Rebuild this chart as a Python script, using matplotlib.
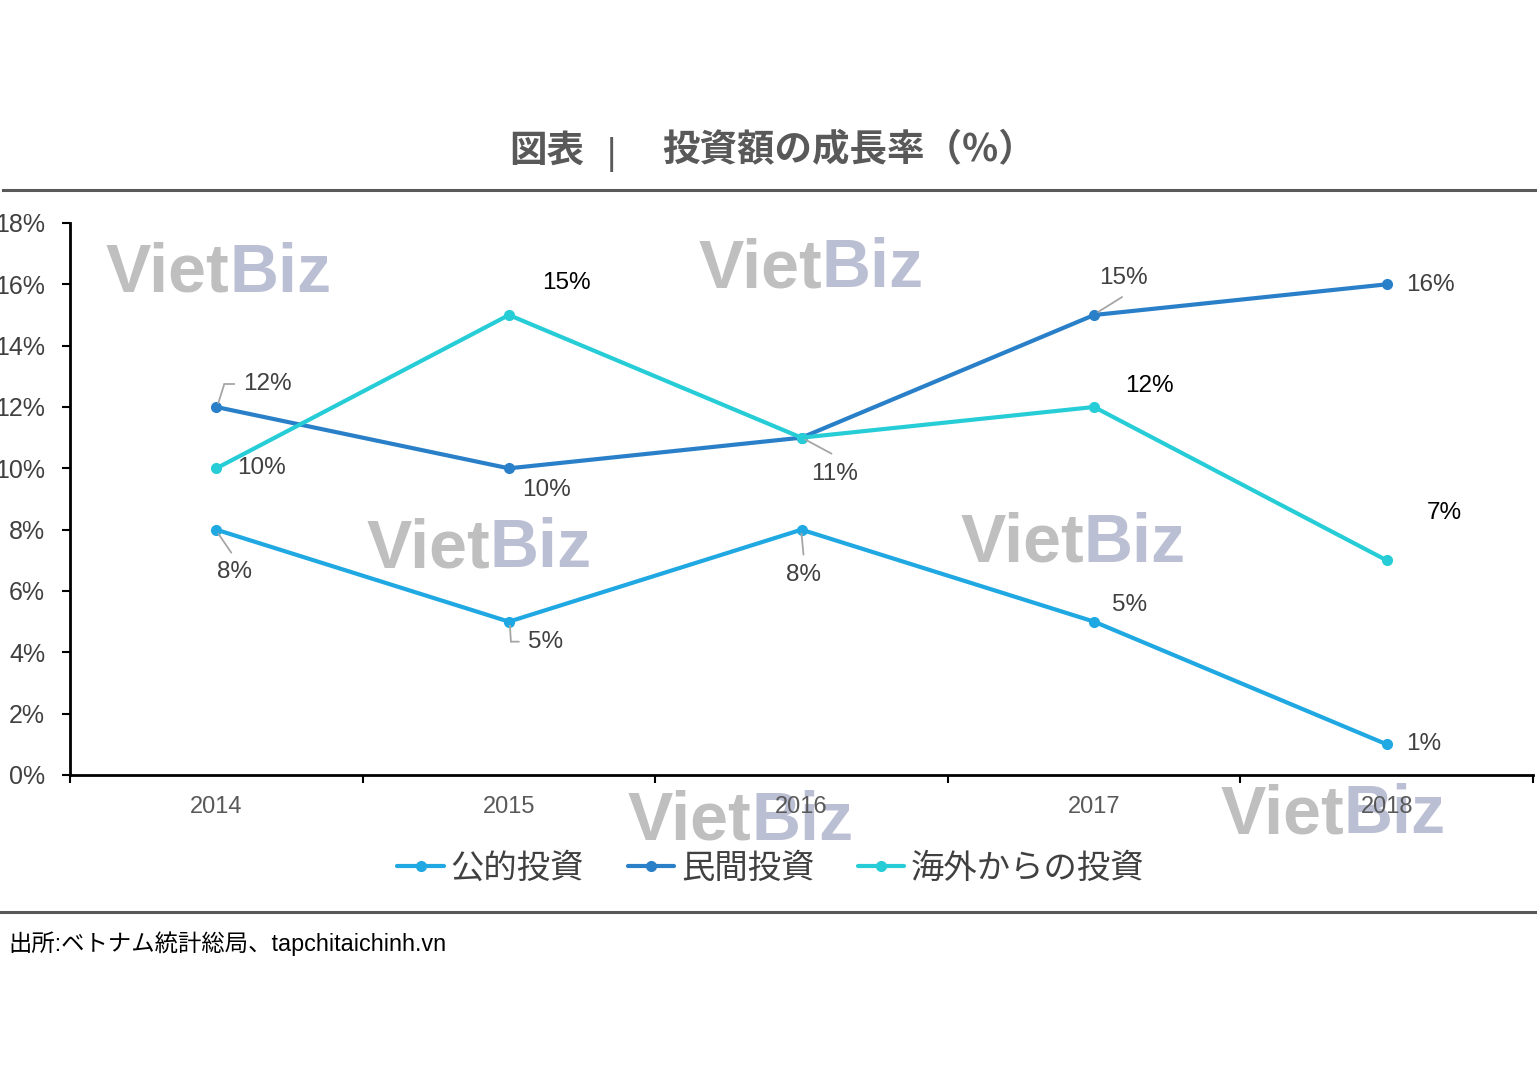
import matplotlib
matplotlib.use("Agg")
import matplotlib.pyplot as plt
from matplotlib.transforms import offset_copy
from matplotlib.lines import Line2D

plt.rcParams['font.family'] = ['Liberation Sans', 'Noto Sans CJK JP']

# データ
years = ['2014', '2015', '2016', '2017', '2018']
public_inv = [8, 5, 8, 5, 1]
private_inv = [12, 10, 11, 15, 16]
foreign_inv = [10, 15, 11, 12, 7]
series_names = ['公的投資', '民間投資', '海外からの投資']
title_left = '図表'
title_right = '投資額の成長率（%）'
source = '出所:ベトナム統計総局、tapchitaichinh.vn'

colors = ['#1FA8E1', '#2A80C8', '#27CDD6']
W, H = 1537, 1080

fig = plt.figure(figsize=(W / 100, H / 100), dpi=100)
ax = fig.add_axes([70 / W, 1 - 775 / H, (1533 - 70) / W, (775 - 223) / H])
ax.set_facecolor('none')

x = list(range(len(years)))
for vals, c, name in zip([public_inv, private_inv, foreign_inv], colors, series_names):
    ax.plot(x, vals, color=c, lw=3.0, marker='o', markersize=7, label=name,
            solid_capstyle='round', zorder=3)

ax.set_xlim(-0.5, len(years) - 0.5)
ax.set_ylim(0, 18)
ax.set_yticks(range(0, 19, 2))
ax.set_yticklabels([f'{v}%' for v in range(0, 19, 2)])
ax.tick_params(axis='y', length=6, width=1.5, pad=12, labelsize=18, labelcolor='#404040')
ax.set_xticks([i - 0.5 for i in range(len(years) + 1)])
ax.set_xticklabels([])
ax.set_xticks(x, minor=True)
ax.set_xticklabels(years, minor=True)
ax.tick_params(axis='x', which='major', length=6, width=1.5)
ax.tick_params(axis='x', which='minor', length=0, pad=15, labelsize=17, labelcolor='#595959')
for s in ['top', 'right']:
    ax.spines[s].set_visible(False)
for s in ['left', 'bottom']:
    ax.spines[s].set_linewidth(2)
    ax.spines[s].set_color('black')


def leader(xv, yv, pts):
    # 引き出し線 (ピクセルのオフセットで)
    for (dx0, dy0), (dx1, dy1) in zip(pts[:-1], pts[1:]):
        t0 = offset_copy(ax.transData, fig=fig, x=dx0, y=dy0, units='dots')
        t1 = offset_copy(ax.transData, fig=fig, x=dx1, y=dy1, units='dots')
        ax.annotate('', xy=(xv, yv), xycoords=t0, xytext=(xv, yv), textcoords=t1,
                    arrowprops=dict(arrowstyle='-', color='#A6A6A6', lw=1.3,
                                    shrinkA=0, shrinkB=0), zorder=4)


def label(xv, yv, dx, dy, color='#404040'):
    ax.annotate(f'{yv}%', (xv, yv), xytext=(dx, dy), textcoords='offset pixels',
                ha='center', va='center', fontsize=17.5, color=color, zorder=5)


# 公的投資
label(0, public_inv[0], 18, -42)
leader(0, public_inv[0], [(2, -4), (15, -23)])
label(1, public_inv[1], 37, -20)
leader(1, public_inv[1], [(1, -4), (2, -20), (10, -20)])
label(2, public_inv[2], 2, -45)
leader(2, public_inv[2], [(0, -4), (2, -25)])
label(3, public_inv[3], 35, 17)
label(4, public_inv[4], 37, 0)

# 民間投資
label(0, private_inv[0], 51, 23)
leader(0, private_inv[0], [(2, 4), (8, 23), (18, 23)])
label(1, private_inv[1], 38, -22)
label(3, private_inv[3], 29, 37)
leader(3, private_inv[3], [(4, 3), (28, 18)])
label(4, private_inv[4], 44, -1)

# 海外からの投資
label(0, foreign_inv[0], 45, 0)
label(1, foreign_inv[1], 58, 32, color='black')
label(2, foreign_inv[2], 33, -36)
leader(2, foreign_inv[2], [(4, -2), (30, -16)])
label(3, foreign_inv[3], 55, 21, color='black')
label(4, foreign_inv[4], 58, 47, color='black')

# ウォーターマーク
marks = [(229, 292), (822, 287), (490, 567), (1084, 562), (751, 840), (1344, 833)]
for mx, my in marks:
    ax.text(mx / W, 1 - my / H, 'Viet', transform=fig.transFigure, ha='right', va='baseline',
            fontsize=49, fontweight='bold', color='#BFBFBF', zorder=1, clip_on=False)
    ax.text(mx / W, 1 - my / H, 'Biz', transform=fig.transFigure, ha='left', va='baseline',
            fontsize=49, fontweight='bold', color='#BBBFD3', zorder=1, clip_on=False)

# タイトルと罫線
fig.text(509 / W, 1 - 150 / H, title_left, ha='left', va='center', fontsize=27,
         fontweight='bold', color='#595959', family=['Noto Sans CJK JP'])
fig.text(611 / W, 1 - 155 / H, '|', ha='center', va='center', fontsize=26,
         color='#595959', family=['Liberation Sans'])
fig.text(662 / W, 1 - 150 / H, title_right, ha='left', va='center', fontsize=27,
         fontweight='bold', color='#595959', family=['Noto Sans CJK JP'])
fig.add_artist(Line2D([3 / W, 1], [1 - 190 / H] * 2, color='#595959', lw=2.2))
fig.add_artist(Line2D([0, 1], [1 - 912 / H] * 2, color='#595959', lw=2.2))

fig.legend(loc='center', bbox_to_anchor=(771 / W, 1 - 868 / H), ncol=3, frameon=False,
           handlelength=1.4, handletextpad=0.2, columnspacing=1.3,
           labelcolor='#404040', prop={'family': ['Noto Sans CJK JP'], 'size': 24})

fig.text(8 / W, 1 - 944 / H, source, ha='left', va='center', fontsize=16.8, color='black')

fig.savefig('out.png', dpi=100, facecolor='white')
